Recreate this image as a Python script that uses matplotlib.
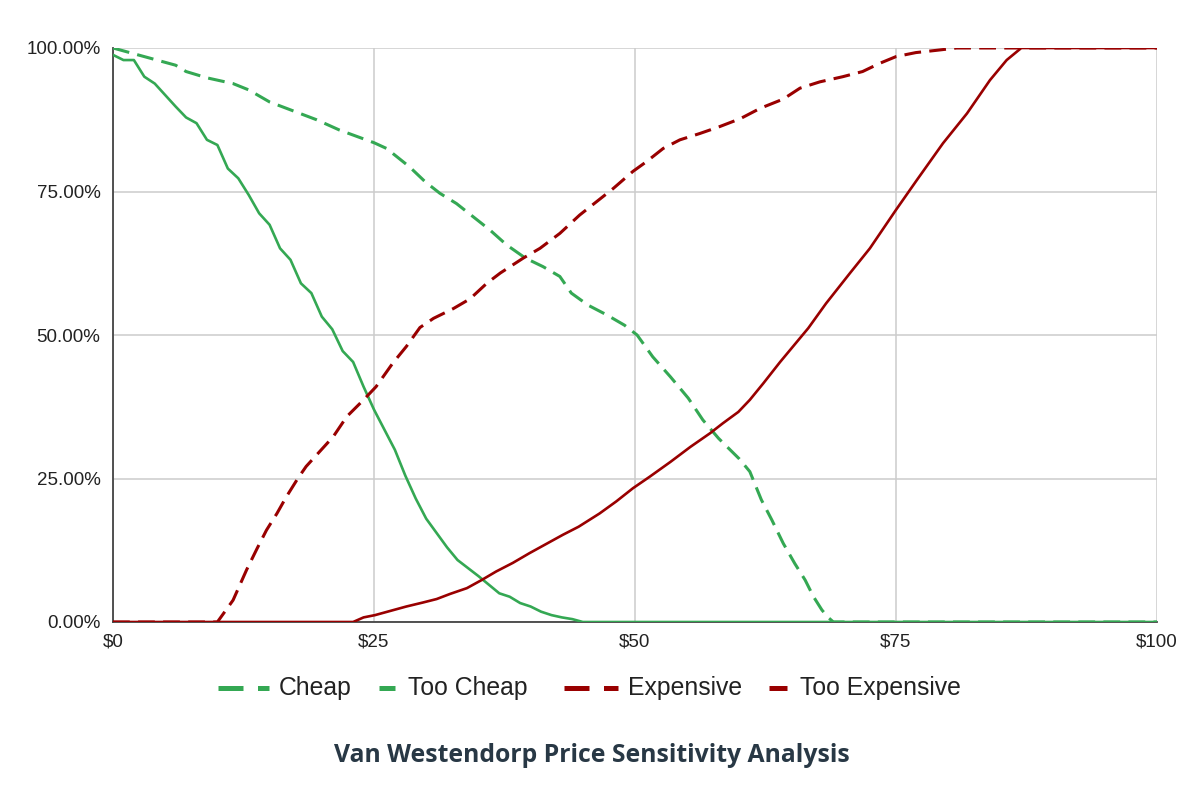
import matplotlib
matplotlib.use('Agg')
import matplotlib.pyplot as plt
from matplotlib.lines import Line2D
from matplotlib.ticker import FuncFormatter

# price points ($) and share of respondents (%)
cheap_x = [0, 2, 4, 6, 7, 9, 11.5, 13, 15, 16.6, 19.5, 21.7, 25, 26.2, 28.4, 29.9,
           31.3, 32.9, 34.5, 36.1, 37.7, 39.5, 41.2, 42.8, 43.9, 45.5, 47.3, 49,
           50.2, 51.7, 53.4, 55.1, 56.5, 58, 60, 61, 62.1, 63.1, 64.2, 65.3, 66.3,
           67.1, 67.9, 68.5, 69, 100]
cheap_y = [100, 99, 98, 97, 95.9, 94.8, 93.8, 92.7, 90.6, 89.5, 87.5, 85.7, 83.5,
           82.5, 79.3, 76.7, 74.7, 72.9, 70.6, 68.3, 65.7, 63.4, 61.9, 60.2, 57.3,
           55.2, 53.5, 51.7, 50, 46.2, 42.7, 39, 35.2, 32, 28.4, 26.2, 21.3, 17.8,
           13.7, 10.2, 7.3, 4.4, 2.1, 0.8, 0, 0]

too_cheap_x = [0, 1, 2, 3, 4, 5, 6, 7, 8, 9, 10, 11, 12, 13, 14, 15, 16, 17, 18,
               19, 20, 21, 22, 23, 24, 25, 26, 27, 28, 29, 30, 31, 32, 33, 34, 35,
               36, 37, 38, 39, 40, 41, 42, 43, 44, 45, 100]
too_cheap_y = [98.8, 97.9, 97.9, 95, 93.8, 91.8, 89.8, 87.9, 86.9, 84, 83.1, 79,
               77.3, 74.4, 71.2, 69.2, 65.1, 63.1, 59, 57.3, 53.2, 51, 47.2, 45.3,
               41, 37, 33.5, 30, 25.5, 21.5, 18, 15.5, 13, 10.8, 9.4, 8, 6.5, 5,
               4.4, 3.3, 2.7, 1.8, 1.2, 0.8, 0.5, 0, 0]

expensive_x = [0, 10, 11.5, 12.8, 13.8, 14.7, 15.7, 16.6, 17.7, 18.5, 19.8, 21.1,
               22.4, 24, 25.2, 26.8, 28.1, 29.4, 30.7, 32.6, 34.2, 35.8, 37.1, 39.3,
               40.9, 42.8, 44.7, 46.3, 47.9, 49.8, 51.1, 52.7, 54.3, 56.2, 58.1,
               60.1, 62, 64.2, 65.8, 67.7, 69.9, 71.8, 73.4, 75, 76.9, 78.9, 80.8, 100]
expensive_y = [0, 0, 3.8, 9.1, 12.8, 16, 18.9, 21.8, 25, 27.1, 29.7, 32.3, 35.8,
               38.7, 41, 45.1, 48, 51.3, 52.9, 54.6, 56.3, 59, 60.8, 63.4, 65.1,
               67.7, 70.9, 73.2, 75.5, 78.5, 80.2, 82.5, 84, 85.1, 86.3, 87.7, 89.5,
               91.1, 93, 94.1, 95, 95.9, 97.3, 98.5, 99.2, 99.6, 100, 100]

too_exp_x = [0, 23, 24, 25.1, 26.5, 28.1, 29.7, 31, 32.3, 33.9, 35.3, 36.7, 38.3,
             39.9, 41.5, 43.1, 44.6, 46.6, 48.2, 49.8, 51.4, 53.4, 55.3, 57.2, 58.4,
             59.9, 61, 62.3, 63.9, 66.6, 68.3, 70.6, 72.5, 75, 77, 79.5, 81.8, 84,
             85.6, 87, 100]
too_exp_y = [0, 0, 0.8, 1.2, 1.9, 2.7, 3.4, 4, 4.9, 5.9, 7.3, 8.8, 10.3, 12, 13.6,
             15.2, 16.6, 18.9, 21, 23.3, 25.3, 27.9, 30.5, 32.9, 34.6, 36.6, 38.7,
             41.6, 45.3, 51.2, 55.5, 60.8, 65.1, 71.8, 77, 83.4, 88.6, 94.4, 97.9,
             100, 100]

series_labels = ['Cheap', 'Too Cheap', 'Expensive', 'Too Expensive']
x_ticks = [0, 25, 50, 75, 100]
y_ticks = [0, 25, 50, 75, 100]
title = 'Van Westendorp Price Sensitivity Analysis'

GREEN = '#34a853'
RED = '#990000'
DASH = (0, (5.5, 2.7))

W, H = 1200, 809
fig = plt.figure(figsize=(W / 100, H / 100), dpi=100)
fig.patch.set_facecolor('white')
ax = fig.add_axes([113 / W, 1 - 622 / H, (1157 - 113) / W, (622 - 48) / H])

ax.plot(cheap_x, cheap_y, color=GREEN, lw=2.2, linestyle=DASH, zorder=3)
ax.plot(too_cheap_x, too_cheap_y, color=GREEN, lw=1.9, zorder=3)
ax.plot(expensive_x, expensive_y, color=RED, lw=2.2, linestyle=DASH, zorder=3)
ax.plot(too_exp_x, too_exp_y, color=RED, lw=1.9, zorder=3)

ax.set_xlim(0, 100)
ax.set_ylim(0, 100)
ax.set_xticks(x_ticks)
ax.set_yticks(y_ticks)
ax.xaxis.set_major_formatter(FuncFormatter(lambda v, p: f'${v:.0f}'))
ax.yaxis.set_major_formatter(FuncFormatter(lambda v, p: f'{v:.2f}%'))
ax.tick_params(axis='both', length=0, labelsize=13.5, labelcolor='#222222')
ax.tick_params(axis='y', pad=9)
ax.tick_params(axis='x', pad=8)
for lab in ax.get_xticklabels() + ax.get_yticklabels():
    lab.set_fontfamily('Liberation Sans')

ax.grid(True, color='#cccccc', lw=1.1, zorder=0)
ax.set_axisbelow(True)
for side in ['top', 'right']:
    ax.spines[side].set_visible(False)
for side in ['left', 'bottom']:
    ax.spines[side].set_color('#444444')
    ax.spines[side].set_linewidth(1.3)
    ax.spines[side].set_zorder(2)

# hand-made legend (dashed entries get two dashes, solid ones a short dash)
leg_y = 1 - 688 / H
handles = [(218, 269, GREEN, True, 279), (379, 395, GREEN, False, 408),
           (564, 618, RED, True, 628), (769, 787, RED, False, 800)]
for (x0, x1, col, dashed, tx), lab in zip(handles, series_labels):
    ls = (0, (5.0, 2.9)) if dashed else '-'
    fig.add_artist(Line2D([x0 / W, x1 / W], [leg_y, leg_y], transform=fig.transFigure,
                          color=col, lw=3.6, linestyle=ls, solid_capstyle='butt',
                          dash_capstyle='butt'))
    fig.text(tx / W, leg_y, lab, ha='left', va='center', fontsize=17.8,
             family='Liberation Sans', color='#222222')

fig.text(592 / W, 1 - 755 / H, title, ha='center', va='center', fontsize=17.8,
         family='Open Sans', fontweight='bold', color='#283845')

fig.savefig('out.png', dpi=100, facecolor='white')
